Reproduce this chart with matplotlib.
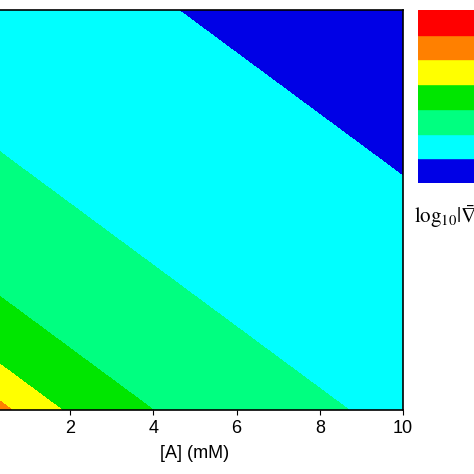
import numpy as np
import matplotlib
matplotlib.use("Agg")
import matplotlib.pyplot as plt
from matplotlib.colors import ListedColormap, BoundaryNorm

# Contour boundaries along y=0 (x positions, mM) and level colors (low->high)
boundary_x = [0.25, 0.6, 1.8, 4.0, 8.7, 17.6]
colors = ["#0000E6", "#00FFFF", "#00FF80", "#00E600", "#FFFF00", "#FF8000", "#FF0000"]
c_slope = 1.3
xticks = [2, 4, 6, 8, 10]

plt.rcParams['font.family'] = ['Liberation Sans', 'DejaVu Sans']
plt.rcParams['mathtext.fontset'] = 'stix'
fig = plt.figure(figsize=(4.74, 4.74), dpi=100)
ax = fig.add_axes([-13/474, 64/474, 416/474, 400/474])

x = np.linspace(0.0, 10, 400)
y = np.linspace(0.0, 10, 400)
X, Y = np.meshgrid(x, y)
F = -np.log10(X + c_slope*Y + 1e-6)
lv = sorted(-np.log10(np.array(boundary_x)))
levels = [-5] + lv + [5]
cmap = ListedColormap(colors)
norm = BoundaryNorm(levels, cmap.N)
ax.contourf(X, Y, F, levels=levels, cmap=cmap, norm=norm)
ax.set_xlim(0, 10); ax.set_ylim(0, 10)
ax.set_xticks(xticks)
ax.tick_params(labelsize=13, direction='out')
ax.set_xlabel('[A] (mM)', fontsize=13, labelpad=6)
for s in ax.spines.values():
    s.set_linewidth(1.2)

cax = fig.add_axes([418/474, 291/474, 80/474, 173/474])
for i, col in enumerate(colors):
    cax.axhspan(i, i+1, color=col)
cax.set_ylim(0, len(colors)); cax.set_xlim(0, 1)
cax.axis('off')
fig.text(414/474, (474-217)/474, r'$\mathrm{log}_{10}|\bar{\nabla}c|$', fontsize=15,
         va='center', ha='left')
fig.savefig('out.png', dpi=100)
